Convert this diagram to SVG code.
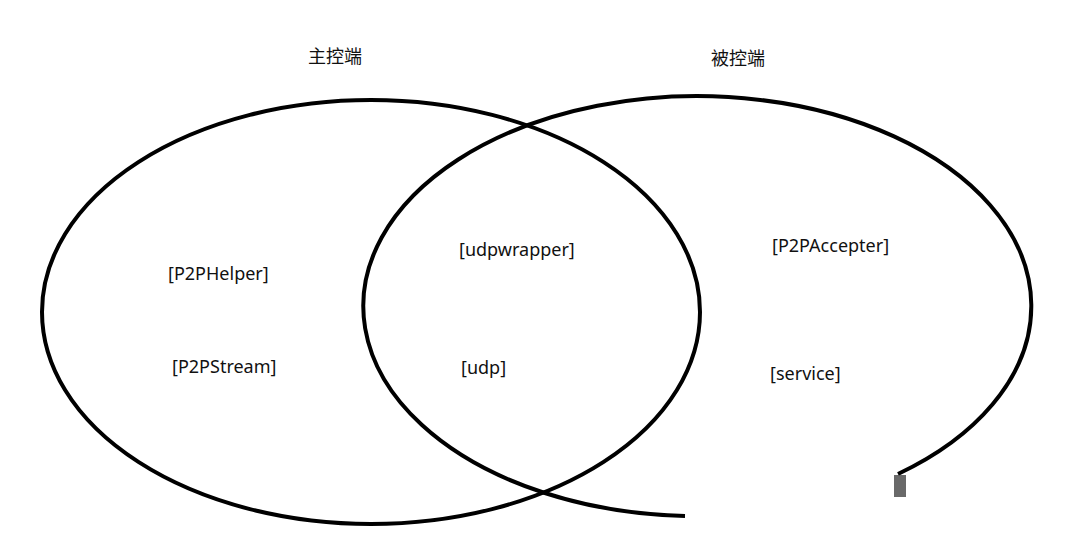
<svg xmlns="http://www.w3.org/2000/svg" width="1080" height="547" viewBox="0 0 1080 547">
<style>
.c{fill:none;stroke:#000;stroke-width:4}
text{font-family:"Noto Sans","Noto Sans CJK SC",sans-serif;font-size:18px;fill:#111}
</style>
<rect width="1080" height="547" fill="#fff"/>
<g id="connectors">
<ellipse id="left" class="c" cx="371" cy="312" rx="329" ry="212"/>
<path id="right" class="c" d="M 898 474 A 334 210 0 1 0 685 516"/>
<rect x="894" y="475" width="12" height="22" fill="#444" opacity="0.8"/>
</g>
<g id="titles">
<text x="335" y="63" text-anchor="middle">主控端</text>
<text x="738" y="65" text-anchor="middle">被控端</text>
</g>
<g id="n1"><text x="168" y="280">[P2PHelper]</text></g>
<g id="n2"><text x="172" y="373">[P2PStream]</text></g>
<g id="n3"><text x="459" y="256">[udpwrapper]</text></g>
<g id="n4"><text x="461" y="374">[udp]</text></g>
<g id="n5"><text x="772" y="252">[P2PAccepter]</text></g>
<g id="n6"><text x="770" y="380">[service]</text></g>
</svg>
